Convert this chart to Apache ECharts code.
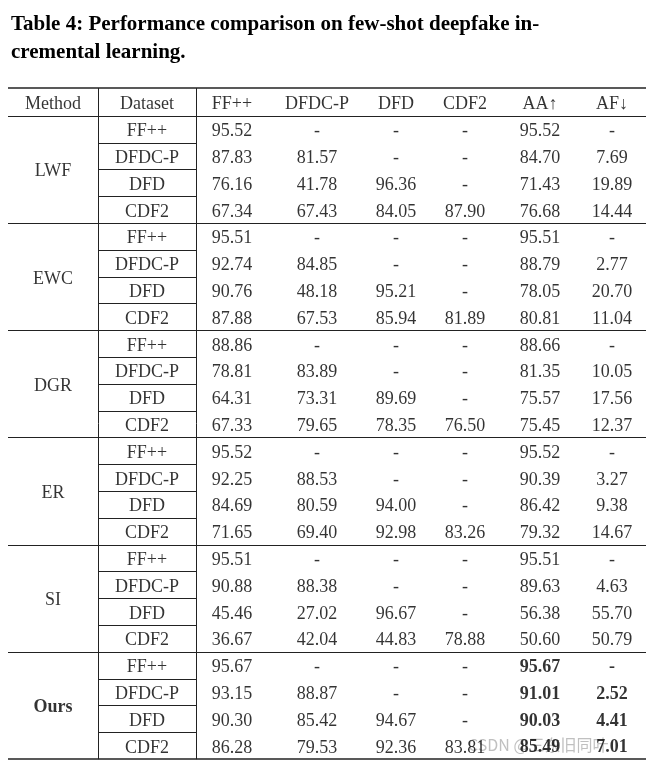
<!DOCTYPE html>
<html>
<head>
<meta charset="utf-8">
<script src="https://cdn.jsdelivr.net/npm/echarts@6/dist/echarts.min.js"></script>
<style>html,body{margin:0;padding:0;background:#fff}#main{width:650px;height:767px}</style>
</head>
<body>
<div id="main"></div>
<script>
// 表格数据
var headers = ['Method', 'Dataset', 'FF++', 'DFDC-P', 'DFD', 'CDF2', 'AA\u2191', 'AF\u2193'];
var methods = ['LWF', 'EWC', 'DGR', 'ER', 'SI', 'Ours'];
var datasets = ['FF++', 'DFDC-P', 'DFD', 'CDF2'];
var lwf = [
  ['95.52', '-', '-', '-', '95.52', '-'],
  ['87.83', '81.57', '-', '-', '84.70', '7.69'],
  ['76.16', '41.78', '96.36', '-', '71.43', '19.89'],
  ['67.34', '67.43', '84.05', '87.90', '76.68', '14.44']
];
var ewc = [
  ['95.51', '-', '-', '-', '95.51', '-'],
  ['92.74', '84.85', '-', '-', '88.79', '2.77'],
  ['90.76', '48.18', '95.21', '-', '78.05', '20.70'],
  ['87.88', '67.53', '85.94', '81.89', '80.81', '11.04']
];
var dgr = [
  ['88.86', '-', '-', '-', '88.66', '-'],
  ['78.81', '83.89', '-', '-', '81.35', '10.05'],
  ['64.31', '73.31', '89.69', '-', '75.57', '17.56'],
  ['67.33', '79.65', '78.35', '76.50', '75.45', '12.37']
];
var er = [
  ['95.52', '-', '-', '-', '95.52', '-'],
  ['92.25', '88.53', '-', '-', '90.39', '3.27'],
  ['84.69', '80.59', '94.00', '-', '86.42', '9.38'],
  ['71.65', '69.40', '92.98', '83.26', '79.32', '14.67']
];
var si = [
  ['95.51', '-', '-', '-', '95.51', '-'],
  ['90.88', '88.38', '-', '-', '89.63', '4.63'],
  ['45.46', '27.02', '96.67', '-', '56.38', '55.70'],
  ['36.67', '42.04', '44.83', '78.88', '50.60', '50.79']
];
var ours = [
  ['95.67', '-', '-', '-', '95.67', '-'],
  ['93.15', '88.87', '-', '-', '91.01', '2.52'],
  ['90.30', '85.42', '94.67', '-', '90.03', '4.41'],
  ['86.28', '79.53', '92.36', '83.81', '85.49', '7.01']
];
var blocks = [lwf, ewc, dgr, er, si, ours];

// 布局
var colX = [53, 147, 232, 317, 396, 465, 540, 612];
var top0 = 88, headH = 28, rowH = 26.8;
function rowY(i) { return top0 + headH + rowH * (i + 0.5); }
function lineY(i) { return top0 + headH + rowH * i; }

var font = 'Liberation Serif, DejaVu Serif, serif';
var cells = [];
headers.forEach(function (h, c) {
  cells.push({ value: [colX[c], top0 + headH / 2, h] });
});
blocks.forEach(function (b, m) {
  var isOurs = methods[m] == 'Ours';
  cells.push({ value: [colX[0], (rowY(m * 4 + 1) + rowY(m * 4 + 2)) / 2, methods[m]],
    label: { fontWeight: isOurs ? 'bold' : 'normal' } });
  b.forEach(function (row, r) {
    var ri = m * 4 + r;
    cells.push({ value: [colX[1], rowY(ri), datasets[r]] });
    row.forEach(function (v, c) {
      cells.push({ value: [colX[c + 2], rowY(ri), v],
        label: { fontWeight: (isOurs && c >= 4) ? 'bold' : 'normal' } });
    });
  });
});

// 线
var lines = [];
function hline(x1, x2, y, w) {
  lines.push([{ coord: [x1, y], lineStyle: { width: w } }, { coord: [x2, y] }]);
}
hline(8, 646, top0, 1.6);
hline(8, 646, top0 + headH, 1);
for (var i = 1; i < 24; i++) {
  if (i % 4 == 0) hline(8, 646, lineY(i), 1);
  else hline(98, 196, lineY(i), 1);
}
hline(8, 646, lineY(24), 1.6);
lines.push([{ coord: [98, top0] }, { coord: [98, lineY(24)] }]);
lines.push([{ coord: [196, top0] }, { coord: [196, lineY(24)] }]);

var option = {
  animation: false,
  title: {
    text: 'Table 4: Performance comparison on few-shot deepfake in-\ncremental learning.',
    left: 6, top: 6,
    textStyle: { fontFamily: font, fontSize: 21, fontWeight: 'bold', color: '#000', lineHeight: 28 }
  },
  grid: { left: 0, right: 0, top: 0, bottom: 0 },
  xAxis: { type: 'value', min: 0, max: 650, show: false },
  yAxis: { type: 'value', min: 0, max: 767, inverse: true, show: false },
  series: [{
    type: 'scatter',
    symbolSize: 0,
    data: cells,
    label: {
      show: true, position: 'inside', offset: [0, 2],
      formatter: function (p) { return p.value[2]; },
      fontFamily: font, fontSize: 18, color: '#000'
    },
    markLine: {
      silent: true, symbol: 'none',
      lineStyle: { color: '#222', type: 'solid', width: 1 },
      label: { show: false },
      data: lines
    }
  }],
  graphic: [{
    type: 'text', left: 468, top: 737,
    style: { text: 'CSDN @三东旧同叶', fontSize: 16, fill: 'rgba(150,150,150,0.6)',
      fontFamily: 'Noto Sans CJK SC' }
  }]
};
echarts.init(document.getElementById('main')).setOption(option);
</script>
</body>
</html>
